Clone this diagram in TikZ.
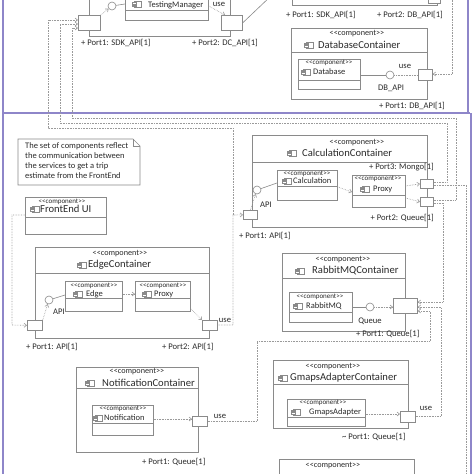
\documentclass[tikz,border=0pt]{standalone}
\usepackage{fontspec}
\setmainfont{Carlito}
\usetikzlibrary{arrows.meta}
\definecolor{frm}{HTML}{8E86C9}
\definecolor{ln}{HTML}{8A8A8A}
\definecolor{dl}{HTML}{9A9A9A}
\definecolor{tx}{HTML}{2A2A2A}
\tikzset{
 box/.style={draw=ln, line width=0.7pt, fill=white, inner sep=0pt, anchor=north west},
 dep/.style={draw=dl, line width=0.6pt, densely dotted, -{Straight Barb[length=2.5pt,width=4pt]}},
 depn/.style={draw=dl, line width=0.6pt, densely dotted},
 sol/.style={draw=ln, line width=0.6pt},
 lolli/.style={circle, draw=ln, line width=0.6pt, fill=white, minimum size=8pt, inner sep=0pt},
 frame/.style={draw=frm, line width=1.3pt},
 lbl/.style={text=tx, font=\fontsize{8.6}{10}\selectfont, inner sep=0pt},
 ster/.style={text=tx, font=\fontsize{8.2}{9}\selectfont, inner sep=0pt},
 sters/.style={text=tx, font=\fontsize{7}{8}\selectfont, inner sep=0pt},
 big/.style={text=tx, font=\fontsize{10.6}{12}\selectfont, inner sep=0pt, anchor=west},
 mid/.style={text=tx, font=\fontsize{8.5}{10}\selectfont, inner sep=0pt, anchor=west},
 icn/.style={draw=ln, line width=0.5pt, fill=white},
}
\newcommand\mybox[6]{\node[#6, minimum width={(#4)-(#2)}, minimum height={(#5)-(#3)}] (#1) at (#2,#3) {};}
\newcommand\cicon[2]{\draw[icn] (#1-2.5,#2-3) rectangle (#1+4,#2+3);
 \draw[icn] (#1-4.5,#2-2) rectangle (#1-0.5,#2-0.5);
 \draw[icn] (#1-4.5,#2+0.5) rectangle (#1-0.5,#2+2);}
\newcommand\cmpst{<\kern0pt<component>\kern0pt>}
\begin{document}
\begin{tikzpicture}[x=1pt,y=-1pt]
\useasboundingbox (0,0) rectangle (474,474);
\clip (0,0) rectangle (474,474);
\fill[white] (0,0) rectangle (474,474);
% frames
\draw[frame] (3,-10) -- (3,480);
\draw[frame] (3,113) -- (470,113);
\draw[frame] (468,-10) -- (468,113);
\draw[frame] (471,113) -- (471,480);

% ---------- top left: TestingManager container ----------
\mybox{tmc}{89}{-40}{230}{36}{box}
\mybox{tmi}{125}{-25}{208}{20}{box}
\draw[sol] (125,10) -- (208,10);
\cicon{137}{4.5}
\node[mid] (tmn) at (148,5) {TestingManager};
\mybox{tmp1}{78}{15}{100}{30}{box}
\mybox{tmp2}{221}{15}{242}{30}{box}
\node[lolli] (tml) at (112,6) {};
\draw[sol] (tml) -- (tmi.west |- 0,4);
\draw[dep] (tmp1.north east) -- (tml);
\draw[dep] (tmi.east |- 0,6) -- (225,15);
\node[lbl] (tmuse) at (219,4.5) {use};
\coordinate (tmx) at (272,-5);
\draw[sol] (tmp2.east) -- (tmx);
\node[lbl, anchor=west] (tml1) at (81,43) {+ Port1: SDK\_API[1]};
\node[lbl, anchor=west] (tml2) at (192,43) {+ Port2: DC\_API[1]};

% ---------- top right container ----------
\mybox{trc}{292}{-40}{437}{5}{box}
\mybox{trp}{428}{-8}{440}{3}{box}
\node[lbl, anchor=west] (trl1) at (286,15) {+ Port1: SDK\_API[1]};
\node[lbl, anchor=west] (trl2) at (377,15) {+ Port2: DB\_API[1]};

% ---------- DatabaseContainer ----------
\mybox{dbc}{291}{28}{427}{99}{box}
\draw[sol] (291,52) -- (427,52);
\node[ster] (dbs) at (357,34) {\cmpst};
\cicon{309}{45}
\node[big] (dbn) at (318,45) {DatabaseContainer};
\mybox{dbi}{298}{59}{360}{89}{box}
\draw[sol] (298,80) -- (360,80);
\node[sters] (dbis) at (329,63) {\cmpst};
\cicon{306}{72}
\node[mid] (dbin) at (313,72) {Database};
\node[lolli] (dbl) at (390,75) {};
\mybox{dbp}{418}{69}{432}{80}{box}
\draw[sol] (dbi.east |- dbl) -- (dbl);
\draw[depn] (dbl) -- (dbp.west |- dbl);
\node[lbl] (dbuse) at (405,66) {use};
\node[lbl] (dbapi) at (391,88) {DB\_API};
\node[lbl, anchor=west] (dbl1) at (379,106) {+ Port1: DB\_API[1]};
\draw[dep] (trp.east |- 0,-2) -- (452,-2) -- (452,74) -- (dbp.east |- 0,74);

% ---------- Note ----------
\draw[sol] (18,139) -- (133,139) -- (140,146) -- (140,185) -- (18,185) -- cycle;
\draw[sol] (133,139) -- (133,146) -- (140,146);
\node[text=tx, font=\fontsize{8.5}{10}\selectfont, align=left, anchor=north west, inner sep=0pt] (note) at (25,142.5)
 {The set of components reflect\\the communication between\\the services to get a trip\\estimate from the FrontEnd};

% ---------- FrontEnd UI ----------
\mybox{fe}{25}{197}{106}{234}{box}
\draw[sol] (25,217) -- (106,217);
\node[sters] (fes) at (62,201.5) {\cmpst};
\cicon{35}{209}
\node[big] (fen) at (40,209) {FrontEnd UI};

% ---------- EdgeContainer ----------
\mybox{edc}{35}{247}{209}{338}{box}
\draw[sol] (35,273) -- (209,273);
\node[ster] (eds) at (120,253.5) {\cmpst};
\cicon{82}{265}
\node[big] (edn) at (88,265) {EdgeContainer};
\mybox{edi}{65}{281}{122}{311}{box}
\draw[sol] (65,298) -- (122,298);
\node[sters] (edis) at (94,285.5) {\cmpst};
\cicon{78}{294}
\node[mid] (edin) at (86,294) {Edge};
\mybox{edp}{135}{281}{190}{311}{box}
\draw[sol] (135,298) -- (190,298);
\node[sters] (edps) at (163,285.5) {\cmpst};
\cicon{147}{294}
\node[mid] (edpn) at (154,294) {Proxy};
\draw[dep] (edi.east |- 0,294) -- (edp.west |- 0,294);
\node[lolli] (edl) at (49,300) {};
\draw[sol] (edl) -- (edi.west |- 0,295);
\mybox{edp1}{27}{320}{42}{330}{box}
\mybox{edp2}{202}{320}{217}{330}{box}
\draw[dep] (edp1.north east) -- (edl);
\draw[dep] (191,309) -- (edp2.north west);
\node[lbl] (edapi) at (59,312) {API};
\node[lbl] (eduse) at (225,320) {use};
\node[lbl, anchor=west] (edl1) at (26,347) {+ Port1: API[1]};
\node[lbl, anchor=west] (edl2) at (162,347) {+ Port2: API[1]};
\draw[dep] (fe.west |- 0,215) -- (12,215) -- (12,325) -- (edp1.west);

% ---------- CalculationContainer ----------
\mybox{cac}{252}{135}{427}{227}{box}
\draw[sol] (252,162) -- (427,162);
\node[ster] (cas) at (357,143) {\cmpst};
\cicon{292}{153}
\node[big] (can) at (302,153) {CalculationContainer};
\mybox{cai}{277}{170}{337}{200}{box}
\draw[sol] (277,186) -- (337,186);
\node[sters] (cais) at (307,173.5) {\cmpst};
\cicon{287}{181}
\node[mid] (cain) at (293,181) {Calculation};
\mybox{cap}{352}{175}{405}{207}{box}
\draw[sol] (352,195) -- (405,195);
\node[sters] (caps) at (378,178.5) {\cmpst};
\cicon{365}{189}
\node[mid] (capn) at (373,189) {Proxy};
\draw[dep] (cai.east |- 0,187) -- (cap.west |- 0,192);
\node[lolli] (cal) at (257,190) {};
\draw[sol] (cal) -- (cai.west |- 0,183);
\mybox{cap1}{243}{210}{257}{219}{box}
\mybox{cap3}{420}{179}{433}{188}{box}
\mybox{cap2}{420}{197}{433}{206}{box}
\draw[dep] (cap1.north) -- (cal);
\draw[dep] (cap.east |- 0,186) -- (cap3.west);
\draw[dep] (cap.east |- 0,198) -- (cap2.west);
\node[lbl] (caapi) at (266,205) {API};
\node[lbl, anchor=west] (cal1) at (239,236) {+ Port1: API[1]};
\node[lbl, anchor=east] (cal3) at (434,167) {+ Port3: Mongo[1]};
\node[lbl, anchor=east] (cal2) at (434,218) {+ Port2: Queue[1]};
\coordinate (j1) at (233,215);
\draw[dep] (edp2.east |- 0,325) -- (233,325) -- (j1) -- (cap1.west);

% ---------- RabbitMQContainer ----------
\mybox{rmc}{282}{253}{405}{331}{box}
\draw[sol] (282,278) -- (405,278);
\node[ster] (rms) at (343,260) {\cmpst};
\cicon{300}{271}
\node[big] (rmn) at (312,271) {RabbitMQContainer};
\mybox{rmi}{289}{292}{352}{322}{box}
\draw[sol] (289,312) -- (352,312);
\node[sters] (rmis) at (320,296.5) {\cmpst};
\cicon{298}{306}
\node[mid] (rmin) at (306,306) {RabbitMQ};
\node[lolli] (rml) at (370,307) {};
\mybox{rmp}{393}{298}{417}{313}{box}
\draw[sol] (rmi.east |- rml) -- (rml);
\draw[dep] (rml) -- (rmp.west |- rml);
\node[lbl] (rmq) at (370,321) {Queue};
\node[lbl, anchor=west] (rml1) at (356,334) {+ Port1: Queue[1]};

% ---------- NotificationContainer ----------
\mybox{ntc}{76}{367}{198}{452}{box}
\draw[sol] (76,388) -- (198,388);
\node[ster] (nts) at (137,372) {\cmpst};
\cicon{90}{383}
\node[big] (ntn) at (102,383) {NotificationContainer};
\mybox{nti}{92}{405}{153}{435}{box}
\draw[sol] (92,423) -- (153,423);
\node[sters] (ntis) at (123,408.5) {\cmpst};
\cicon{98}{418}
\node[mid] (ntin) at (104,418) {Notification};
\mybox{ntp}{192}{416}{207}{426}{box}
\draw[dep] (nti.east |- 0,419) -- (ntp.west |- 0,419);
\node[lbl] (ntuse) at (220,416) {use};
\node[lbl, anchor=west] (ntl1) at (142,462) {+ Port1: Queue[1]};

% ---------- GmapsAdapterContainer ----------
\mybox{gmc}{273}{360}{408}{428}{box}
\draw[sol] (273,384) -- (408,384);
\node[ster] (gms) at (333,367) {\cmpst};
\cicon{283}{378}
\node[big] (gmn) at (290,378) {GmapsAdapterContainer};
\mybox{gmi}{287}{399}{365}{426}{box}
\draw[sol] (287,417) -- (365,417);
\node[sters] (gmis) at (323,403) {\cmpst};
\cicon{296}{412}
\node[mid] (gmin) at (309,412) {GmapsAdapter};
\mybox{gmp}{400}{411}{415}{422}{box}
\draw[dep] (gmi.east |- 0,414) -- (gmp.west |- 0,414);
\node[lbl] (gmuse) at (426,408) {use};
\node[lbl, anchor=west] (gml1) at (342,437) {\textasciitilde{} Port1: Queue[1]};

% ---------- bottom partial component ----------
\mybox{btc}{279}{459}{414}{500}{box}
\node[ster] (bts) at (333,466) {\cmpst};

% ---------- connectors to RabbitMQ port ----------
\draw[dep] (cap2.east |- 0,203) -- (443,203) -- (443,302) -- (rmp.east |- 0,302);
\draw[dep] (gmp.east |- 0,416) -- (441,416) -- (441,307) -- (rmp.east |- 0,307);
\draw[dep] (ntp.east |- 0,421) -- (257,421) -- (257,341) -- (430,341) -- (430,311) -- (rmp.east |- 0,311);
\coordinate (bt) at (466,480);
\draw[depn] (cap3.east |- 0,185) -- (466,185) -- (bt);

% ---------- connectors to TestingManager port1 ----------
\draw[dep] (j1) -- (233,128) -- (48,128) -- (48,20) -- (tmp1.west |- 0,20);
\draw[dep] (cap3.east |- 0,182) -- (447,182) -- (447,123) -- (60,123) -- (60,24) -- (tmp1.west |- 0,24);
\draw[dep] (cap2.east |- 0,200) -- (456,200) -- (456,118) -- (72,118) -- (72,28) -- (tmp1.west |- 0,28);
\end{tikzpicture}
\end{document}
